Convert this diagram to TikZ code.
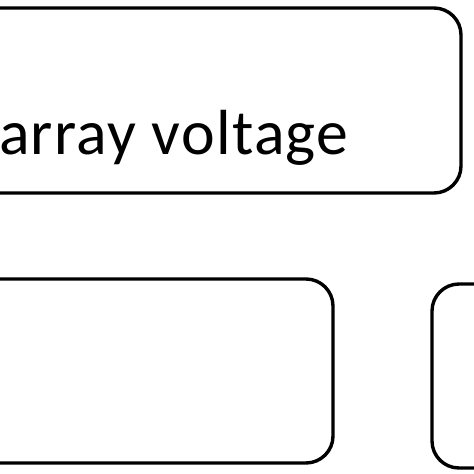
\documentclass[tikz,border=0pt]{standalone}
\usepackage{fontspec}
\setmainfont{Carlito}[LetterSpace=2]
\usetikzlibrary{positioning}

\begin{document}
\begin{tikzpicture}[
                    x=1bp, y=-1bp,
                    box/.style={rectangle, draw, rounded corners=27bp, line width=3.4bp, inner sep=0pt},
                    label/.style={anchor=base west, inner sep=0pt, font=\fontsize{64}{70}\selectfont}
                ]
                    \useasboundingbox (0,0) rectangle (474,474);
                    \clip (0,0) rectangle (474,474);
                    \node[box, minimum width=561bp, minimum height=185bp] (top) at (180.5,100.5) {};
                    \node[box, minimum width=393bp, minimum height=184bp] (left) at (136.5,371) {};
                    \node[box, minimum width=168bp, minimum height=184bp] (right) at (516,376) {};
                    \node[label] (volt) at (-1,155) {array voltage};
                \end{tikzpicture}
\end{document}
